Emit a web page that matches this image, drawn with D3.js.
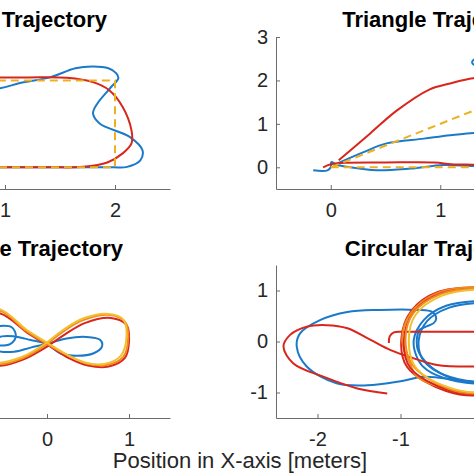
<!DOCTYPE html>
<html>
<head>
<meta charset="utf-8">
<script src="https://cdn.jsdelivr.net/npm/d3@7"></script>
<style>
  body { margin: 0; background: #fff; }
  svg { display: block; font-family: "Liberation Sans", Arial, sans-serif; }
</style>
</head>
<body>
<svg id="chart" width="474" height="474"></svg>
<script>
// Trajectory data (x, y in meters)

// Square trajectory
var squareRef = [[0,0],[2,0],[2,2],[0,2],[0,0]];
var squareRed = [[0,0.02],[0.5,0],[1.0,0],[1.41,0],[1.71,0.01],[1.93,0.11],[2.07,0.32],[2.15,0.55],[2.15,0.85],[2.07,1.39],[1.95,1.77],[1.80,1.96],[1.56,2.06],[1.2,2.07],[0.8,2.07],[0.3,2.05],[0,1.9]];
var squareBlue = [[0,0],[0.5,0],[1,0],[1.6,0],[1.98,0],[2.11,0.01],[2.23,0.16],[2.25,0.39],[2.14,0.69],[1.86,1.01],[1.80,1.24],[1.84,1.47],[1.955,1.82],[2.03,2.05],[2.01,2.17],[1.94,2.28],[1.80,2.32],[1.64,2.28],[1.41,2.07],[1.136,1.94],[0.955,1.82],[0.6,1.75],[0.2,1.8]];

// Triangle trajectory
var triangleRef = [[0,0],[2,0],[2,2],[0,0]];
var triangleRed = [[-0.07,0],[0.0,0.07],[0.1,0.1],[0.5,0.11],[0.95,0.11],[1.1,0.07],[1.3,0.06],[1.6,0.05],[1.75,0.6],[1.7,1.6],[1.55,2.06],[1.30,2.05],[1.09,1.93],[0.9,1.79],[0.605,1.31],[0.36,0.78],[0.073,0.16]];
var triangleBlue = [[-0.16,-0.07],[-0.03,-0.07],[0.0,0.0],[0.005,0.12],[0.05,0.06],[0.15,0.01],[0.42,-0.07],[0.73,-0.03],[1.03,0.05],[1.31,0.03],[1.55,0.05],[1.7,0.4],[1.55,0.83],[1.31,0.79],[1.09,0.74],[0.85,0.66],[0.51,0.55],[0.30,0.35],[0.057,0.085]];
var triangleBlueTip = [[1.38,2.54],[1.32,2.5],[1.29,2.42],[1.32,2.34],[1.38,2.3]];

// Figure-eight trajectory
var eightOrange = [[0,-0.05],[0.2,0.2],[0.44,0.42],[0.77,0.52],[0.95,0.39],[0.99,0.09],[0.93,-0.3],[0.73,-0.46],[0.48,-0.43],[0.24,-0.26],[0,-0.05],[-0.25,0.2],[-0.57,0.6],[-0.85,0.55],[-1.0,0.1],[-0.9,-0.35],[-0.6,-0.45],[-0.3,-0.33],[0,-0.05]];
var eightYellow = [[0,-0.02],[0.2,0.23],[0.44,0.45],[0.75,0.54],[0.93,0.43],[0.97,0.1],[0.9,-0.28],[0.7,-0.44],[0.46,-0.41],[0.22,-0.24],[0,-0.02],[-0.25,0.23],[-0.57,0.63],[-0.86,0.58],[-1.02,0.12],[-0.92,-0.33],[-0.6,-0.42],[-0.3,-0.3],[0,-0.02]];
var eightRed = [[0.02,-0.08],[0.22,0.14],[0.46,0.36],[0.78,0.46],[0.97,0.32],[1.0,0.0],[0.95,-0.32],[0.75,-0.49],[0.5,-0.47],[0.26,-0.32],[0.02,-0.08],[-0.22,0.15],[-0.57,0.55],[-0.86,0.5],[-1.02,0.05],[-0.9,-0.38],[-0.6,-0.48],[-0.3,-0.36],[0.02,-0.08]];
var eightBlue = [[0,-0.05],[0.24,0.06],[0.48,0.09],[0.65,0.03],[0.67,-0.1],[0.57,-0.23],[0.36,-0.28],[0.16,-0.23],[0,-0.05],[-0.2,0.03],[-0.4,0.1],[-0.55,0.1],[-0.7,-0.02],[-0.6,-0.18],[-0.4,-0.2],[-0.2,-0.12],[0,-0.05]];
var eightBlueLoop = [[-0.6,0.3],[-0.43,0.28],[-0.38,0.1],[-0.45,-0.05],[-0.6,-0.08]];

// Circular trajectory (closed loops)
var circleOrange1 = [[0,1.07],[-0.56,0.95],[-0.88,0.55],[-0.98,0.03],[-0.88,-0.45],[-0.8,-0.69],[-0.4,-0.95],[-0.11,-1.02],[0.5,-0.9],[0.95,-0.3],[0.95,0.4],[0.55,0.95]];
var circleOrange2 = [[0,1.04],[-0.52,0.93],[-0.85,0.55],[-0.94,0.05],[-0.86,-0.45],[-0.42,-0.93],[0,-1.0],[0.9,-0.3],[0.9,0.4],[0.5,0.93]];
var circleYellow = [[0,1.02],[-0.5,0.9],[-0.82,0.52],[-0.9,0.02],[-0.82,-0.5],[-0.42,-0.9],[0,-0.98],[0.88,-0.3],[0.88,0.4],[0.5,0.9]];
var circleRed1 = [[0,1.06],[-0.55,0.97],[-0.87,0.6],[-0.99,0.05],[-0.92,-0.5],[-0.45,-0.97],[0,-1.04],[0.9,-0.35],[0.92,0.45],[0.5,0.97]];
var circleRed2 = [[0,1.03],[-0.5,0.95],[-0.84,0.58],[-0.96,0.0],[-0.88,-0.52],[-0.42,-0.95],[0,-1.01],[0.9,-0.35],[0.9,0.45],[0.5,0.95]];
var circleBlue1 = [[0,0.8],[-0.45,0.7],[-0.72,0.42],[-0.84,0.03],[-0.79,-0.35],[-0.68,-0.56],[-0.4,-0.75],[0,-0.82],[0.7,-0.5],[0.8,0.3],[0.4,0.75]];
var circleBlue2 = [[0,0.76],[-0.42,0.66],[-0.68,0.4],[-0.78,0.03],[-0.74,-0.33],[-0.6,-0.55],[-0.3,-0.74],[0,-0.78],[0.7,-0.45],[0.75,0.3],[0.4,0.7]];
// open paths
var circleBlueLeft = [[0,-0.82],[-0.3,-0.76],[-0.72,-0.69],[-1.0,-0.78],[-1.4,-0.86],[-1.77,-0.82],[-2.13,-0.49],[-2.25,-0.1],[-2.21,0.16],[-1.97,0.42],[-1.64,0.58],[-1.25,0.62],[-0.8,0.62],[-0.62,0.58],[-0.57,0.45],[-0.6,0.36],[-0.68,0.3],[-0.77,0.23],[-0.8,0.09],[-0.79,-0.17],[-0.68,-0.43],[-0.52,-0.62],[-0.24,-0.79],[0,-0.82]];
var circleRedLeft = [[-1.16,-1.02],[-1.52,-0.92],[-1.93,-0.69],[-2.29,-0.43],[-2.41,-0.1],[-2.33,0.13],[-2.13,0.29],[-1.89,0.32],[-1.64,0.26],[-1.36,0.03],[-1.12,-0.17],[-0.84,-0.33],[-0.56,-0.46],[-0.11,-0.49],[0.3,-0.45]];
var circleRedHook = [[-1.14,-0.03],[-1.13,0.1],[-1.08,0.18],[-0.95,0.19],[-0.5,0.19],[0,0.19],[0.3,0.19]];

// Titles and tick labels (only those inside the cropped view)
var titles = ["Square Trajectory", "Triangle Trajectory", "Lemniscate Trajectory", "Circular Trajectory"];
var xTicks = [[1,2], [0,1], [0,1], [-2,-1]];
var yTicks = [[], [0,1,2,3], [], [-1,0,1]];
var xLabel = "Position in X-axis [meters]";

var blue = "#1a7ac9", red = "#d8261c", orange = "#f08a1e", yellow = "#f2bf2e", refColor = "#edb120";

// panel layout (pixels)
var panels = [
  {xd: [-0.5, 2.5], xr: [-160, 170], yd: [-0.5, 3], yr: [189, 37], title: 0, tx: 107, ty: 27, anchor: "end",
   lines: [[squareBlue, blue, false], [squareRed, red, false]], ref: squareRef},
  {xd: [-0.5, 2.5], xr: [276, 604.5], yd: [-0.5, 3], yr: [189, 37], title: 1, tx: 440, ty: 27, anchor: "middle",
   lines: [[triangleBlue, blue, false], [triangleBlueTip, blue, false], [triangleRed, red, false]], ref: triangleRef},
  {xd: [-1.5, 1.5], xr: [-76, 170], yd: [-1.5, 1.5], yr: [418, 265], title: 2, tx: 123, ty: 256, anchor: "end",
   lines: [[eightBlue, blue, false], [eightBlueLoop, blue, false], [eightRed, red, false], [eightOrange, orange, false], [eightYellow, yellow, false]]},
  {xd: [-2.5, 1.5], xr: [276, 608], yd: [-1.5, 1.5], yr: [418, 265], title: 3, tx: 442, ty: 256, anchor: "middle",
   lines: [[circleBlueLeft, blue, false], [circleBlue1, blue, true], [circleBlue2, blue, true],
           [circleRedLeft, red, false], [circleRedHook, red, false],
           [circleRed1, red, true], [circleOrange1, orange, true], [circleRed2, red, true],
           [circleOrange2, orange, true], [circleYellow, yellow, true]]}
];

var svg = d3.select("#chart");

panels.forEach(function(p, i) {
  var x = d3.scaleLinear().domain(p.xd).range(p.xr);
  var y = d3.scaleLinear().domain(p.yd).range(p.yr);
  var g = svg.append("g");

  var open = d3.line().x(function(d) { return x(d[0]); }).y(function(d) { return y(d[1]); }).curve(d3.curveCatmullRom);
  var closed = d3.line().x(function(d) { return x(d[0]); }).y(function(d) { return y(d[1]); }).curve(d3.curveCatmullRomClosed);

  p.lines.forEach(function(l) {
    g.append("path")
      .attr("d", (l[2] ? closed : open)(l[0]))
      .style("fill", "none")
      .style("stroke", l[1])
      .style("stroke-width", 2)
      .style("stroke-linejoin", "round");
  });

  if (p.ref) {
    g.append("path")
      .attr("d", d3.line().x(function(d) { return x(d[0]); }).y(function(d) { return y(d[1]); })(p.ref))
      .style("fill", "none")
      .style("stroke", refColor)
      .style("stroke-width", 2)
      .style("stroke-dasharray", "8,5");
  }

  // axes, MATLAB style: ticks pointing in, no box
  var xa = g.append("g")
    .attr("transform", "translate(0," + p.yr[0] + ")")
    .call(d3.axisBottom(x).tickValues(xTicks[i]).tickSizeInner(-4).tickSizeOuter(0).tickPadding(14)
      .tickFormat(function(d) { return String(d); }));
  var ya = g.append("g")
    .attr("transform", "translate(" + p.xr[0] + ",0)")
    .call(d3.axisLeft(y).tickValues(yTicks[i]).tickSizeInner(-4).tickSizeOuter(0).tickPadding(8)
      .tickFormat(function(d) { return String(d); }));
  [xa, ya].forEach(function(a) {
    a.attr("font-family", null).attr("font-size", null);
    a.select(".domain").style("stroke", "#6b6b6b");
    a.selectAll(".tick line").style("stroke", "#6b6b6b");
    a.selectAll("text").style("font-size", "20px").style("fill", "#262626");
  });

  g.append("text")
    .attr("x", p.tx).attr("y", p.ty)
    .attr("text-anchor", p.anchor)
    .style("font-size", "22px").style("font-weight", "bold").style("fill", "#000")
    .text(titles[p.title]);
});

svg.append("text")
  .attr("x", 240).attr("y", 468)
  .attr("text-anchor", "middle")
  .style("font-size", "22px").style("fill", "#262626")
  .text(xLabel);
</script>
</body>
</html>
